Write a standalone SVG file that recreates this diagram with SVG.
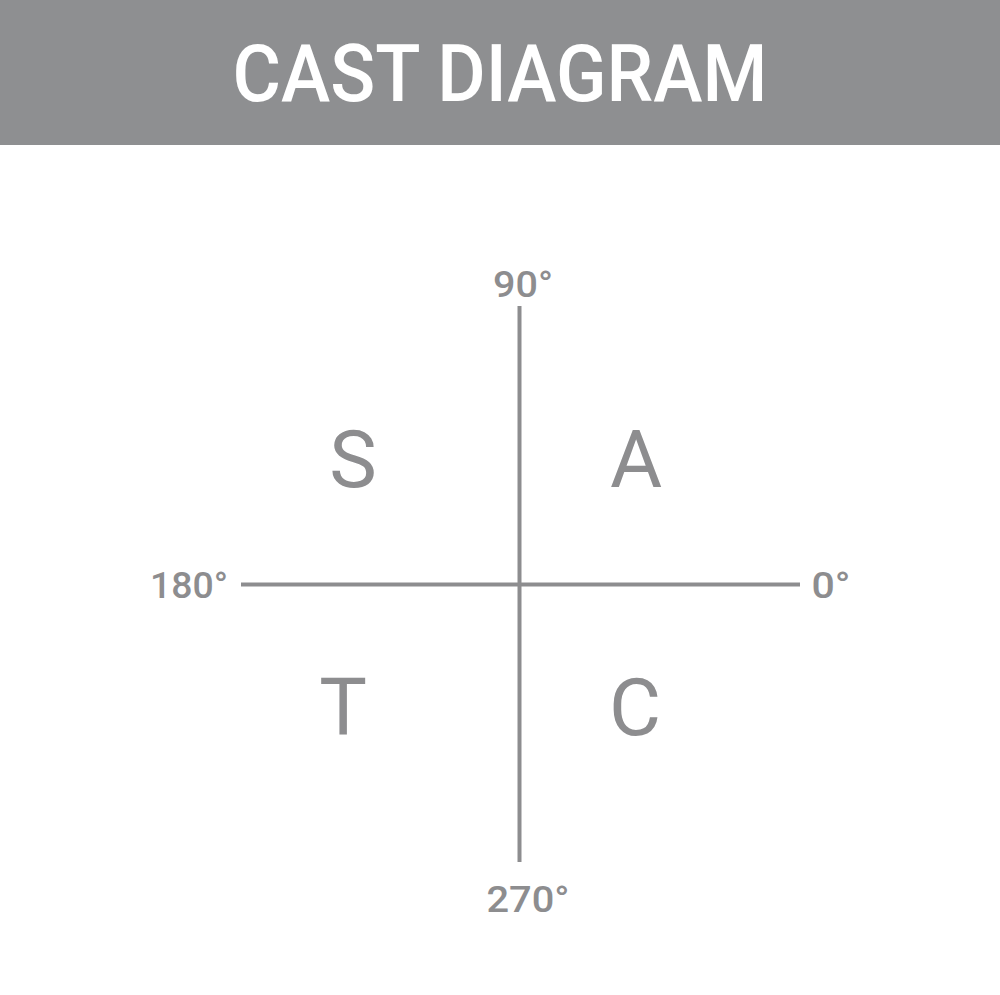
<svg xmlns="http://www.w3.org/2000/svg" width="1000" height="995" viewBox="0 0 1000 995">
<style>
.lbl{font-family:Roboto,"DejaVu Sans Condensed","Liberation Sans",sans-serif;font-weight:500;fill:#8d8d8f;font-size:36px;text-anchor:middle}
.q{font-family:Roboto,"Liberation Sans",sans-serif;font-weight:400;fill:#8d8d8f;font-size:80px;text-anchor:middle}
.ax{stroke:#8d8d8f;stroke-width:4;fill:none}
</style>
<rect width="1000" height="995" fill="#ffffff"/>
<g id="header">
<rect x="0" y="0" width="1000" height="145" fill="#8e8f91"/>
<text x="500" y="101" font-family="Roboto,DejaVu Sans Condensed,Liberation Sans,sans-serif" font-weight="500" font-size="80" fill="#ffffff" text-anchor="middle" textLength="535" lengthAdjust="spacingAndGlyphs">CAST DIAGRAM</text>
</g>
<g id="connectors">
<line class="ax" x1="519.5" y1="306" x2="519.5" y2="862"/>
<line class="ax" x1="241" y1="584.5" x2="800" y2="584.5"/>
</g>
<g id="label-90"><text class="lbl" x="523" y="297" textLength="60" lengthAdjust="spacingAndGlyphs">90°</text></g>
<g id="label-180"><text class="lbl" x="189" y="598" textLength="78" lengthAdjust="spacingAndGlyphs">180°</text></g>
<g id="label-0"><text class="lbl" x="831" y="598" textLength="39" lengthAdjust="spacingAndGlyphs">0°</text></g>
<g id="label-270"><text class="lbl" x="528" y="912" textLength="83" lengthAdjust="spacingAndGlyphs">270°</text></g>
<g id="quadrant-S"><text class="q" x="353" y="487">S</text></g>
<g id="quadrant-A"><text class="q" x="636" y="487">A</text></g>
<g id="quadrant-T"><text class="q" x="343" y="735">T</text></g>
<g id="quadrant-C"><text class="q" x="635" y="735">C</text></g>
</svg>
